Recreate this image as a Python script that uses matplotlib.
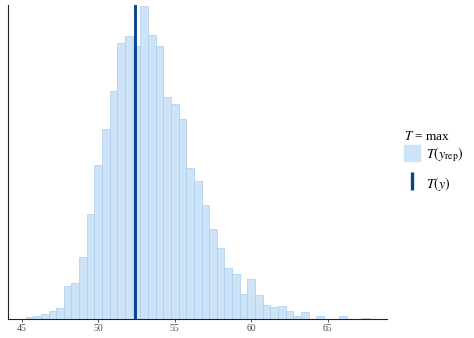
import matplotlib
matplotlib.use("Agg")
import matplotlib.pyplot as plt
from matplotlib.patches import Patch
from matplotlib.lines import Line2D

# histogram of T(y_rep) = max, bins of width 0.5
bin_centers = [45.5, 46.0, 46.5, 47.0, 47.5, 48.0, 48.5, 49.0, 49.5, 50.0,
               50.5, 51.0, 51.5, 52.0, 52.5, 53.0, 53.5, 54.0, 54.5, 55.0,
               55.5, 56.0, 56.5, 57.0, 57.5, 58.0, 58.5, 59.0, 59.5, 60.0,
               60.5, 61.0, 61.5, 62.0, 62.5, 63.0, 63.5, 64.0, 64.5, 65.0,
               65.5, 66.0, 66.5, 67.0, 67.5]
counts = [2, 3, 5, 8, 11, 33, 36, 62, 105, 154,
          190, 228, 276, 283, 273, 313, 284, 273, 222, 215,
          200, 151, 138, 114, 90, 71, 51, 45, 25, 40,
          24, 14, 12, 13, 8, 3, 7, 0, 3, 0,
          0, 3, 0, 0, 1]
t_y = 52.4  # observed statistic
xticks = [45, 50, 55, 60, 65]

fill_col = "#cde3f8"
edge_col = "#aacdee"
line_col = "#08458f"

plt.rcParams["mathtext.fontset"] = "stix"
plt.rcParams["font.family"] = "Liberation Serif"

fig = plt.figure(figsize=(4.74, 3.38), dpi=100)
ax = fig.add_axes([0.0169, 0.0553, 0.799, 0.9299])

ax.bar(bin_centers, counts, width=0.5, color=fill_col, edgecolor=edge_col,
       linewidth=0.5)
ax.axvline(t_y, color=line_col, linewidth=2.1)

ax.set_xlim(44.1, 68.86)
ax.set_ylim(0, 314)
ax.set_xticks(xticks)
ax.set_yticks([])
ax.tick_params(axis="x", length=2, width=0.6, colors="#333333",
               labelsize=7, labelcolor="#4d4d4d", pad=1.5)
for s in ["top", "right"]:
    ax.spines[s].set_visible(False)
for s in ["left", "bottom"]:
    ax.spines[s].set_linewidth(0.8)
    ax.spines[s].set_color("#222222")

# legend title
fig.text(404 / 474, 1 - 140 / 338, r"$T$ = max", fontsize=9.5,
         ha="left", va="baseline")

handles = [Patch(facecolor=fill_col, edgecolor=fill_col),
           Line2D([], [], color=line_col, marker="|", linestyle="None",
                  markersize=12.5, markeredgewidth=2.4)]
labels = [r"$T\left(y_{\mathrm{rep}}\right)$", r"$T\left(y\right)$"]
leg = fig.legend(handles, labels, loc="upper left",
                 bbox_to_anchor=(404 / 474, 1 - 145 / 338),
                 frameon=False, fontsize=10,
                 handlelength=1.15, handleheight=1.4, handletextpad=0.4,
                 labelspacing=0.8, borderpad=0, borderaxespad=0)

fig.savefig("out.png", dpi=100)
